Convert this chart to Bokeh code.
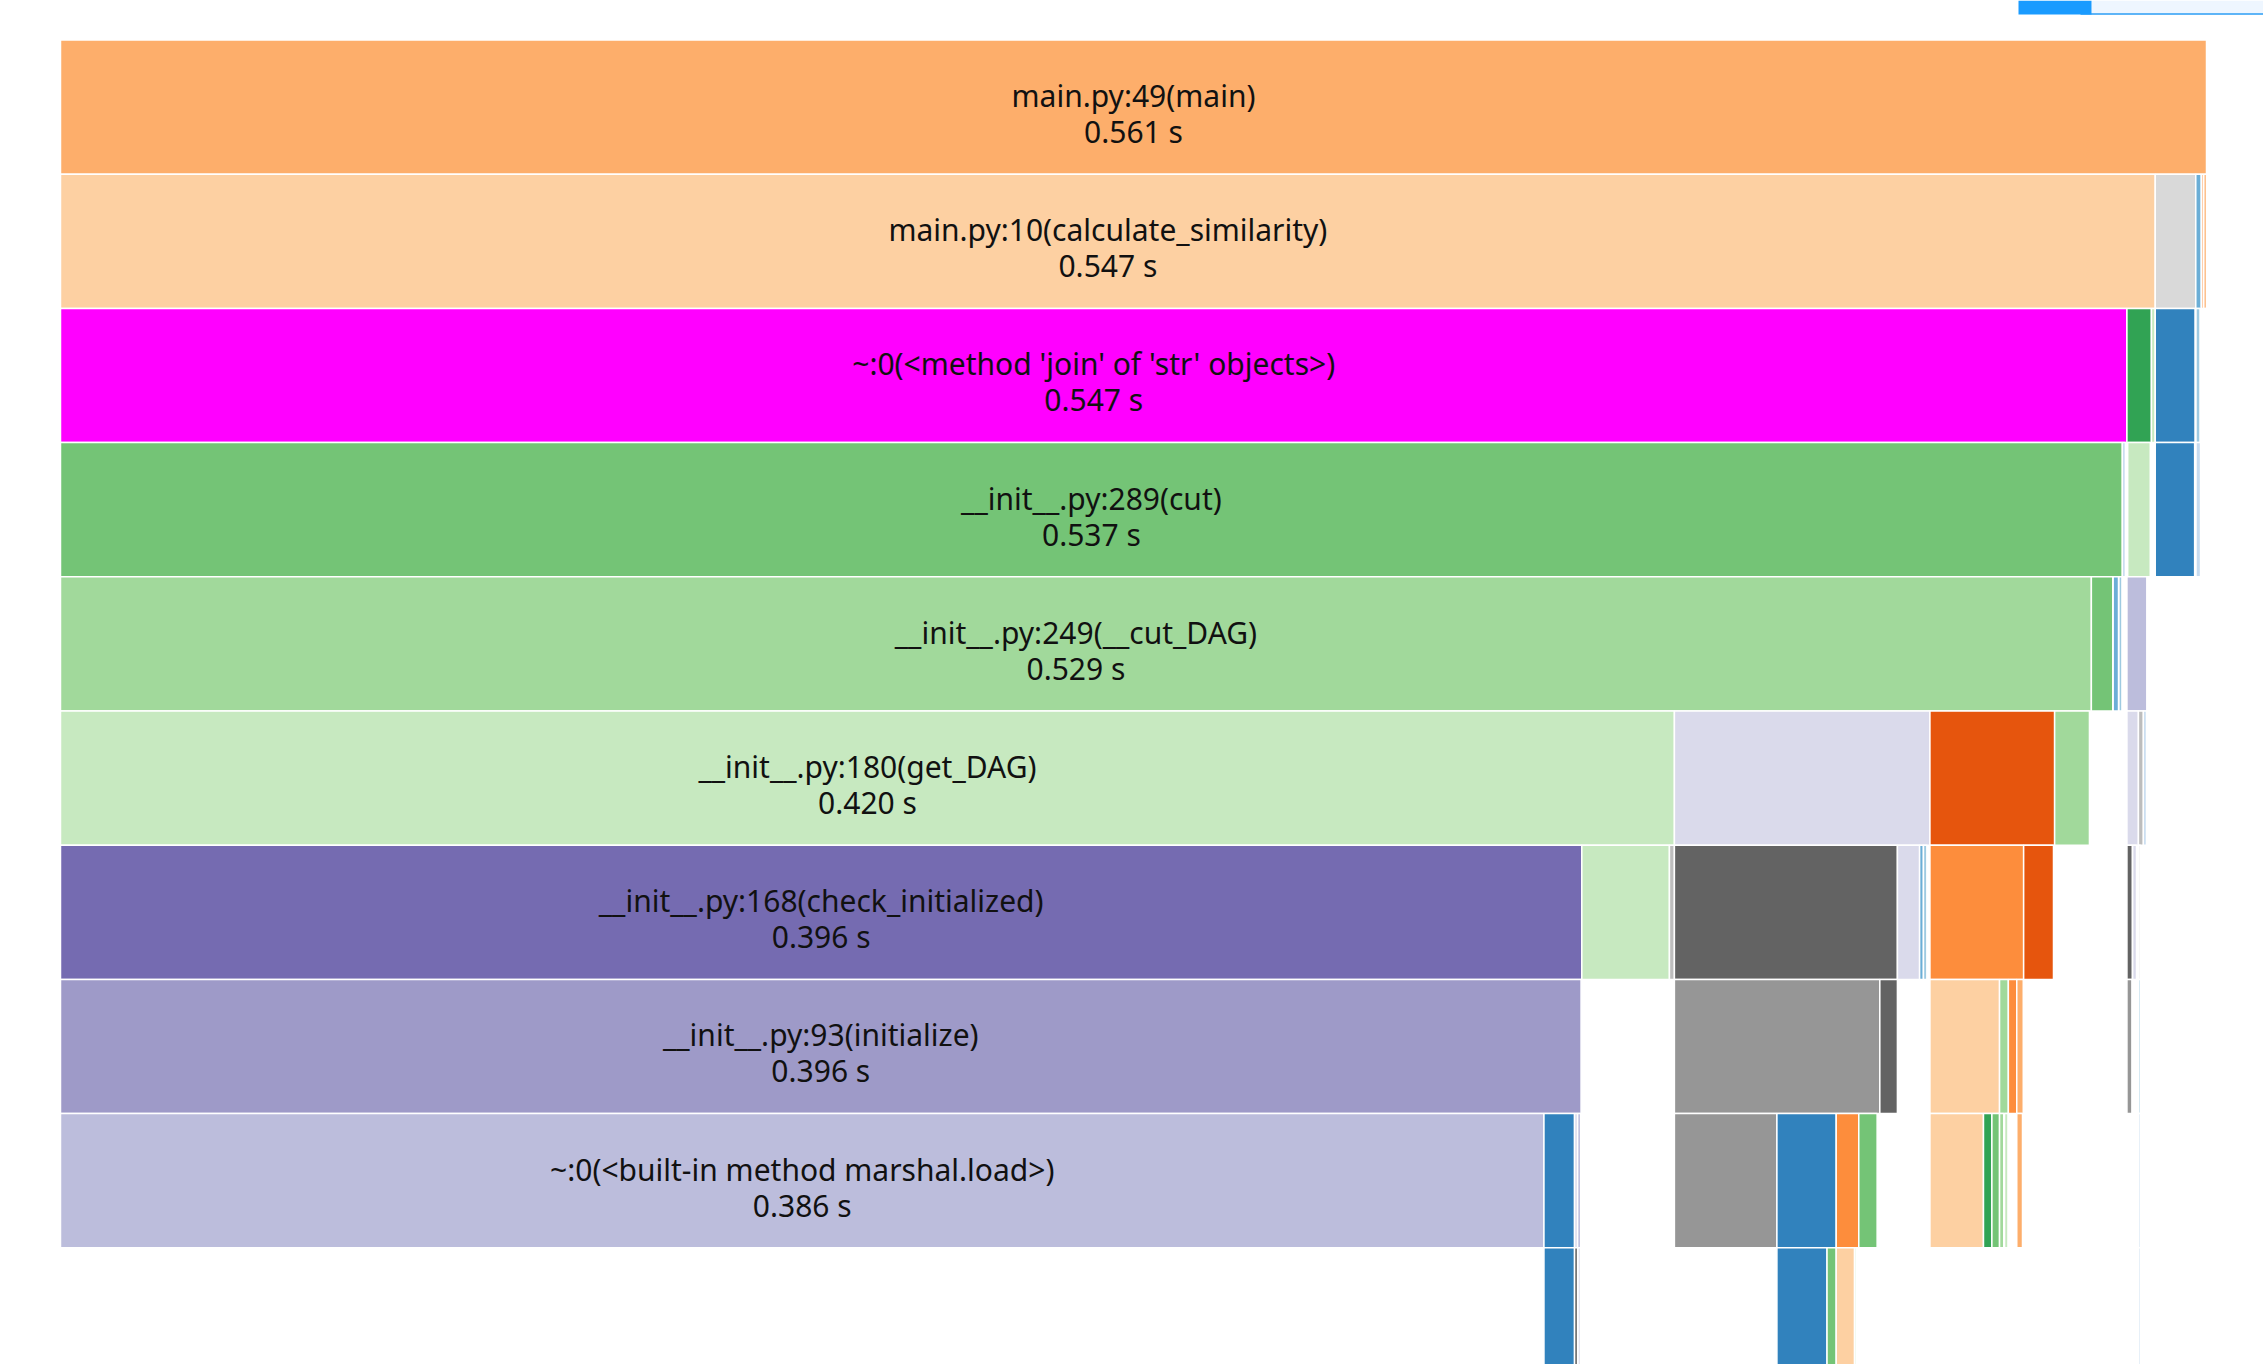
from bokeh.plotting import figure
from bokeh.models import Range1d, ColumnDataSource
from bokeh.embed import file_html
from bokeh.resources import INLINE
from bokeh.core.properties import value

# ---- data: icicle frames (depth, start offset ms, duration ms, colour) ----
depth = [0,
         1, 1, 1, 1, 1,
         2, 2, 2, 2, 2, 2,
         3, 3, 3, 3, 3,
         4, 4, 4, 4, 4,
         5, 5, 5, 5, 5, 5, 5,
         6, 6, 6, 6, 6, 6, 6, 6, 6, 6, 6, 6,
         7, 7, 7, 7, 7, 7, 7, 7, 7,
         8, 8, 8, 8, 8, 8, 8, 8, 8, 8, 8, 8, 8, 8, 8,
         9, 9, 9, 9, 9, 9, 9, 9]
start_ms = [0.0,
            0.0, 547.6, 558.2, 559.7, 560.3,
            0.0, 540.2, 546.6, 547.6, 558.25, 560.5,
            0.0, 539.0, 540.4, 547.6, 558.25,
            0.0, 530.9, 536.6, 538.1, 540.2,
            0.0, 421.9, 488.7, 521.3, 540.2, 543.2, 544.5,
            0.0, 397.7, 420.6, 421.9, 480.2, 486.0, 487.0, 488.7, 513.2, 540.2, 541.7, 543.3,
            0.0, 421.9, 475.6, 488.7, 506.9, 509.2, 511.4, 540.2, 543.3,
            0.0, 387.8, 395.8, 396.6, 421.9, 448.7, 464.2, 470.1, 488.7, 502.7, 504.9, 506.9, 508.2, 511.4, 543.3,
            387.8, 395.8, 396.7, 448.7, 461.8, 464.2, 469.0, 543.3]
dur_ms = [561.0,
          547.6, 10.6, 1.4, 0.5, 0.7,
          540.2, 6.4, 1.0, 10.4, 1.05, 0.3,
          539.0, 0.8, 5.9, 10.3, 1.2,
          530.9, 5.6, 1.4, 0.8, 5.2,
          421.9, 66.8, 32.6, 9.1, 3.0, 1.3, 0.8,
          397.7, 22.9, 1.3, 58.3, 5.8, 1.0, 0.9, 24.5, 7.8, 1.4, 1.0, 0.45,
          397.5, 53.7, 4.6, 18.2, 2.3, 2.2, 1.7, 1.3, 0.5,
          387.8, 8.0, 0.8, 0.8, 26.8, 15.5, 5.9, 4.8, 14.0, 2.2, 2.0, 1.1, 0.9, 1.5, 0.5,
          8.0, 0.8, 0.65, 13.1, 2.4, 4.8, 0.45, 0.5]
colors = ["#fdae6b",
          "#fdd0a2", "#d9d9d9", "#6baed6", "#fd8d3c", "#fdae6b",
          "#ff00ff", "#31a354", "#c7e9c0", "#3182bd", "#9ecae1", "#c6dbef",
          "#74c476", "#c6dbef", "#c7e9c0", "#3182bd", "#c6dbef",
          "#a1d99b", "#74c476", "#6baed6", "#9ecae1", "#bcbddc",
          "#c7e9c0", "#dadaeb", "#e6550d", "#a1d99b", "#dadaeb", "#bdbdbd", "#c6dbef",
          "#756bb1", "#c7e9c0", "#bdbdbd", "#636363", "#dadaeb", "#6baed6", "#9ecae1", "#fd8d3c", "#e6550d", "#636363", "#dadaeb", "#d9d9d9",
          "#9e9ac8", "#969696", "#636363", "#fdd0a2", "#a1d99b", "#fd8d3c", "#fdae6b", "#969696", "#9ecae1",
          "#bcbddc", "#3182bd", "#dadaeb", "#bcbddc", "#969696", "#3182bd", "#fd8d3c", "#74c476", "#fdd0a2", "#31a354", "#74c476", "#a1d99b", "#c7e9c0", "#fdae6b", "#c6dbef",
          "#3182bd", "#636363", "#dadaeb", "#3182bd", "#74c476", "#fdd0a2", "#c7e9c0", "#c6dbef"]

label_depth = [0, 1, 2, 3, 4, 5, 6, 7, 8]
label_names = ["main.py:49(main)",
               "main.py:10(calculate_similarity)",
               "~:0(<method 'join' of 'str' objects>)",
               "__init__.py:289(cut)",
               "__init__.py:249(__cut_DAG)",
               "__init__.py:180(get_DAG)",
               "__init__.py:168(check_initialized)",
               "__init__.py:93(initialize)",
               "~:0(<built-in method marshal.load>)"]
label_times = ["0.561 s", "0.547 s", "0.547 s", "0.537 s", "0.529 s",
               "0.420 s", "0.396 s", "0.396 s", "0.386 s"]
label_dur_ms = [561.0, 547.6, 540.2, 539.0, 530.9, 421.9, 397.7, 397.5, 387.8]

# ---- layout (pixels, figure sits at the page origin) ----
W, H = 2263, 1364
PX_PER_MS = 2146.0 / 561.0
LEFT_PX = 60.0          # x of time 0
TOP_PX = 39.5           # y of depth 0
ROW_PX = 134.2

def xd(px):
    return (px - LEFT_PX) / PX_PER_MS

def yd(px):
    return (px - TOP_PX) / ROW_PX

p = figure(width=W, height=H, output_backend="svg", toolbar_location=None,
           x_range=Range1d(xd(0), xd(W)), y_range=Range1d(yd(H), yd(0)),
           min_border=0, min_border_left=0, min_border_right=0,
           min_border_top=0, min_border_bottom=0)
p.xaxis.visible = False
p.yaxis.visible = False
p.grid.visible = False
p.outline_line_color = None
p.background_fill_color = "white"
p.border_fill_color = "white"

# page chrome at the top right (toolbar strip and button)
p.quad(left=[xd(2091)], right=[xd(2263)], top=[yd(0)], bottom=[yd(13)],
       fill_color="#eef6ff", line_color=None)
p.segment(x0=[xd(2080)], x1=[xd(2263)], y0=[yd(13.5)], y1=[yd(13.5)],
          line_color="#2a9df4", line_width=1.5)
p.quad(left=[xd(2018)], right=[xd(2091)], top=[yd(0)], bottom=[yd(14)],
       fill_color="#1a9bff", line_color=None)

src = ColumnDataSource(dict(
    left=start_ms,
    right=[s + d for s, d in zip(start_ms, dur_ms)],
    top=depth,
    bottom=[d + 1 for d in depth],
    color=colors,
))
p.quad(left="left", right="right", top="top", bottom="bottom", source=src,
       fill_color="color", line_color="white", line_width=1.5)

line1_off = yd(95.0)
line2_off = yd(131.0)
lsrc = ColumnDataSource(dict(
    x=[d / 2.0 for d in label_dur_ms],
    y1=[d + line1_off for d in label_depth],
    y2=[d + line2_off for d in label_depth],
    name=label_names,
    t=label_times,
))
common = dict(text_font=value("Noto Sans"), text_font_size="30px",
              text_color="#111111", text_align="center",
              text_baseline="alphabetic")
p.text(x="x", y="y1", text="name", source=lsrc, **common)
p.text(x="x", y="y2", text="t", source=lsrc, **common)

open("out.html", "w").write(file_html(p, INLINE))
